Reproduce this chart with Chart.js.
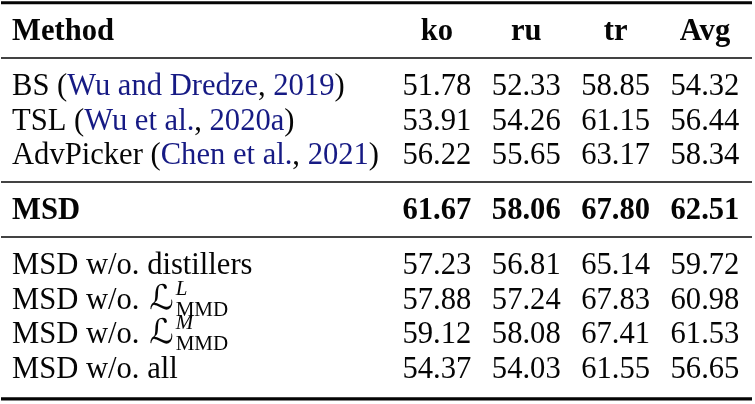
<!DOCTYPE html>
<html>
<head>
<meta charset="utf-8">
<script src="https://cdn.jsdelivr.net/npm/chart.js@4.4.1/dist/chart.umd.min.js"></script>
<style>
  html, body { margin: 0; padding: 0; background: #fff; }
  #wrap { width: 755px; height: 404px; }
</style>
</head>
<body>
<div id="wrap"><canvas id="c" width="755" height="404"></canvas></div>
<script>
// ---- data ----
const columns = ["Method", "ko", "ru", "tr", "Avg"];
const methodNames = ["BS", "TSL", "AdvPicker", "MSD", "MSD w/o. distillers", "MSD w/o. ", "MSD w/o. ", "MSD w/o. all"];
const citeAuthors = ["Wu and Dredze", "Wu et al.", "Chen et al.", "", "", "", "", ""];
const citeYears = ["2019", "2020a", "2021", "", "", "", "", ""];
const lossSuper = ["", "", "", "", "", "L", "M", ""];
const ko  = [51.78, 53.91, 56.22, 61.67, 57.23, 57.88, 59.12, 54.37];
const ru  = [52.33, 54.26, 55.65, 58.06, 56.81, 57.24, 58.08, 54.03];
const tr  = [58.85, 61.15, 63.17, 67.80, 65.14, 67.83, 67.41, 61.55];
const avg = [54.32, 56.44, 58.34, 62.51, 59.72, 60.98, 61.53, 56.65];
const rowGroup = [0, 0, 0, 1, 2, 2, 2, 2];
const boldRows = [3];

// ---- layout helpers ----
const GAP = 0.594;
function rowPos(i) { return i + 1 + (rowGroup[i] + 1) * GAP; }
const seriesValues = [ko, ru, tr, avg];
const FONT = "'Liberation Serif', 'Times New Roman', serif";
const SIZE = 30.6;
const BLUE = "rgb(22,26,132)";
const INK = "#050505";

const datasets = seriesValues.map((vals, c) => ({
  label: columns[c + 1],
  data: vals.map((v, i) => ({ x: c + 1, y: rowPos(i), v: v })),
  pointRadius: 0,
  showLine: false
}));
datasets.push({
  label: "header",
  data: columns.slice(1).map((h, c) => ({ x: c + 1, y: 0, v: h })),
  pointRadius: 0,
  showLine: false
});

function rulePositions() {
  const r = [{ y: -1.08, w: 3 }, { y: 0.52, w: 1.6 }];
  for (let i = 0; i < rowGroup.length - 1; i++) {
    if (rowGroup[i] !== rowGroup[i + 1]) r.push({ y: rowPos(i) + 0.52, w: 1.6 });
  }
  r.push({ y: rowPos(rowGroup.length - 1) + 0.62, w: 3.2 });
  return r;
}

const tablePlugin = {
  id: "tablePlugin",
  afterDatasetsDraw(chart) {
    const ctx = chart.ctx;
    const xs = chart.scales.x, ys = chart.scales.y;
    ctx.save();
    ctx.strokeStyle = INK;
    rulePositions().forEach(r => {
      const py = ys.getPixelForValue(r.y);
      ctx.lineWidth = r.w;
      ctx.beginPath();
      ctx.moveTo(xs.left + 1, py);
      ctx.lineTo(xs.right - 3, py);
      ctx.stroke();
    });
    ctx.textBaseline = "alphabetic";
    chart.data.datasets.forEach((ds, di) => {
      const meta = chart.getDatasetMeta(di);
      meta.data.forEach((pt, i) => {
        const isHeader = ds.label === "header";
        const bold = isHeader || boldRows.includes(i);
        ctx.font = (bold ? "bold " : "") + SIZE + "px " + FONT;
        ctx.fillStyle = INK;
        ctx.textAlign = "center";
        const raw = ds.data[i].v;
        const txt = isHeader ? raw : raw.toFixed(2);
        ctx.fillText(txt, pt.x, pt.y);
      });
    });
    const left = xs.left + 12;
    ctx.textAlign = "left";
    ctx.font = "bold " + SIZE + "px " + FONT;
    ctx.fillStyle = INK;
    ctx.fillText(columns[0], left, ys.getPixelForValue(0));
    methodNames.forEach((name, i) => {
      const py = ys.getPixelForValue(rowPos(i));
      const bold = boldRows.includes(i);
      let x = left;
      const base = (bold ? "bold " : "") + SIZE + "px " + FONT;
      function put(t, color, font, dy) {
        ctx.font = font || base;
        ctx.fillStyle = color || INK;
        ctx.fillText(t, x, py + (dy || 0));
        return ctx.measureText(t).width;
      }
      x += put(name);
      if (citeAuthors[i]) {
        x += put(" (");
        x += put(citeAuthors[i], BLUE);
        x += put(", ");
        x += put(citeYears[i], BLUE);
        x += put(")");
      }
      if (lossSuper[i]) {
        x += 2;
        x += put("\u2112", INK, "34px 'DejaVu Serif', 'DejaVu Sans', serif");
        x += 2;
        const small = Math.round(SIZE * 0.7);
        const wSup = put(lossSuper[i], INK, "italic " + small + "px " + FONT, -14);
        const wSub = put("MMD", INK, small + "px " + FONT, 7);
        x += Math.max(wSup, wSub);
      }
    });
    ctx.restore();
  }
};

new Chart(document.getElementById("c"), {
  type: "scatter",
  data: { datasets: datasets },
  options: {
    responsive: false,
    animation: false,
    events: [],
    layout: { padding: 0 },
    plugins: { legend: { display: false }, tooltip: { enabled: false } },
    scales: {
      x: { type: "linear", display: false, min: -3.89, max: 4.56 },
      y: { type: "linear", display: false, reverse: true, min: -1.16, max: 10.55 }
    }
  },
  plugins: [tablePlugin]
});
</script>
</body>
</html>
